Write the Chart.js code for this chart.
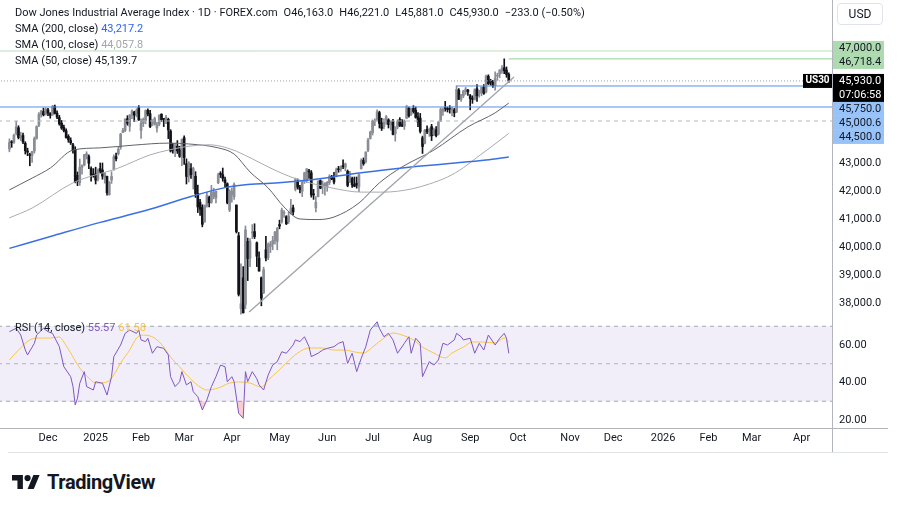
<!DOCTYPE html>
<html>
<head>
<meta charset="utf-8">
<script src="https://cdn.jsdelivr.net/npm/chart.js@4.4.1/dist/chart.umd.min.js"></script>
<style>
  body { margin: 0; background: #fff; font-family: Roboto, "Noto Sans", sans-serif; }
  #wrap { position: relative; width: 902px; height: 509px; overflow: hidden; background: #fff; }
  #c { position: absolute; left: 0; top: 0; }
  #legend { position: absolute; left: 15px; top: 5px; font-size: 11px; line-height: 16px; color: #131722; white-space: nowrap; }
  #legend .gap { margin-left: 6px; }
  #rsiLegend { position: absolute; left: 15px; top: 320px; font-size: 11px; line-height: 16px; color: #131722; white-space: nowrap; }
  #usd { position: absolute; left: 837px; top: 3px; width: 46px; height: 22px; border: 1px solid #e0e3eb; border-radius: 4px;
         box-sizing: border-box; font-size: 12px; line-height: 20px; text-align: center; color: #131722; }
  #logo { position: absolute; left: 12px; top: 470px; display: flex; align-items: center; gap: 7px; }
  #logo span { font-size: 20px; font-weight: 700; color: #131722; letter-spacing: -0.4px; }
</style>
</head>
<body>
<div id="wrap">
  <canvas id="c" width="890" height="454"></canvas>
  <div id="legend"></div>
  <div id="rsiLegend"></div>
  <div id="usd">USD</div>
  <div id="logo">
    <svg width="28" height="14" viewBox="0 4 36 18"><path d="M14 22H7V11H0V4h14v18zM28 22h-8l7.5-18h8L28 22z" fill="#131722"/><circle cx="20" cy="8" r="4" fill="#131722"/></svg>
    <span>TradingView</span>
  </div>
</div>
<script>
// daily bars, 6 Nov 2024 .. 25 Sep 2025 (index = trading day)
const opens = [
  43500,43760,43740,44050,44260,43930,43980,43700,43420,43300,43270,43430,43880,44350,44740,44840,44750,
  44900,44760,44720,45030,44780,44620,44420,44270,44150,43950,43800,43650,43470,42560,42300,42850,42930,43260,43230,42800,42600,
  42610,42430,42800,42750,42480,42520,41870,42390,42760,43230,43330,43560,44090,44160,44580,44310,44710,44820,44760,44980,
  44160,44420,44520,44880,44760,44400,44390,44250,44390,44740,44580,44510,44560,44140,43480,43450,43600,43470,43250,
  43900,42970,42530,42800,42590,42530,41910,41600,41410,40900,41470,41770,41600,41800,41750,42290,42600,42580,42400,42260,41320,
  41870,41800,41500,40400,37800,38900,37950,40200,39600,40500,40550,40150,39600,38900,38360,39900,39620,40020,40120,40230,40200,
  40800,40900,41200,41080,40910,41200,41400,42060,42340,42130,41990,42350,42380,42700,42650,41880,41400,41800,42370,42200,42150,
  42150,42300,42520,42450,42550,42770,42780,42900,42850,42700,42330,42450,42230,42280,42150,42800,43100,43050,43450,43880,
  44080,44480,44550,44800,44440,44300,44480,44540,44360,44500,44050,44280,44550,44370,44320,44600,44950,44740,44950,44880,44650,44600,
  43900,43700,44200,44130,44300,44020,44190,44030,44500,44850,44980,44920,44930,44880,44900,44820,45600,45280,45400,45550,45600,
  45400,45320,45280,45650,45500,45500,45710,45540,46100,45900,45900,45760,46100,46180,46280,46400,46320,46163
];
const highs = [
  43860,43800,44030,44490,44330,44100,44070,43760,43530,43350,43420,43930,44330,44800,44880,44960,44970,
  44950,44800,45060,45070,44860,44700,44520,44350,44220,44010,43900,43700,43580,42680,43140,42930,43310,43400,43290,42860,42800,
  42850,42790,43000,43000,42660,42530,42340,42690,43290,43350,43580,44060,44240,44580,44690,44730,44900,44850,44940,45050,
  44580,44610,44900,44930,44880,44550,44640,44450,44720,44760,44580,44700,44600,44190,43700,43700,43800,43600,43860,
  43970,43150,43050,42980,42850,42690,42210,41700,41510,41500,41950,41820,42200,42100,42000,42640,42690,42820,42500,42290,42050,
  42100,42290,41500,40520,39400,39300,40750,40320,40300,40800,40830,40180,39830,38930,39280,40380,40150,40200,40380,40560,40700,
  40960,41390,41300,41120,41250,41700,41500,42460,42430,42200,42350,42670,42800,42770,42730,42060,41800,42370,42400,42360,42300,
  42340,42580,42560,42670,42820,42880,42900,43110,43000,42750,42700,42500,42500,42500,42600,43150,43180,43400,43880,44140,
  44540,44580,44900,44850,44600,44580,44700,44580,44500,44560,44300,44540,44620,44550,44540,45060,45000,44950,45050,45000,44800,44770,
  43960,44200,44330,44250,44380,44250,44300,44480,44970,44960,45200,45000,45050,45000,44950,45760,45660,45450,45600,45700,45630,
  45450,45400,45650,45800,45600,45720,45800,46140,46150,45990,45950,46260,46210,46330,46480,46720,46430,46221
];
const lows = [
  43400,43560,43700,44000,43860,43800,43690,43320,43260,42900,43020,43350,43850,44300,44640,44680,44710,
  44690,44600,44700,44750,44580,44350,44200,44110,43890,43740,43660,43350,42290,42190,42200,42600,42900,43140,42800,42350,42490,
  42250,42360,42640,42420,42280,41850,41850,42270,42740,43070,43280,43490,44090,44120,44350,44130,44580,44480,44650,44520,
  43880,44300,44400,44680,44260,44330,44350,44100,44330,44480,44300,44400,43870,43390,43350,43230,43340,43200,42900,
  42950,42250,42320,42450,42070,41770,41230,41130,40720,40880,41420,41430,41560,41720,41570,42260,42480,42350,42150,41540,41260,
  41600,41700,40500,38250,37600,37640,37800,38800,39300,40300,40300,39300,39140,37900,38340,39500,39550,39800,39900,40100,39900,
  40650,40850,41060,40800,40840,41170,41150,42000,42070,41930,41800,42270,42300,42450,41780,41700,41250,41790,42080,41900,41850,
  41990,42230,42400,42250,42500,42670,42700,42800,42720,42150,42300,42130,42150,42100,41980,42780,42920,43000,43400,43850,
  44000,44330,44500,44250,44160,44220,44380,44250,44170,44000,43780,44220,44300,44300,44200,44580,44640,44700,44780,44600,44300,44070,
  43340,43680,44050,43950,43800,43980,43930,44000,44480,44700,44850,44820,44780,44680,44650,44800,45260,45200,45330,45450,45410,
  44900,45130,45250,45200,45350,45400,45450,45500,45800,45780,45700,45600,45950,46050,46200,46190,46060,45881
];
const closes = [
  43730,43730,43990,44290,43910,43960,43750,43440,43390,43270,43410,43870,44300,44740,44860,44720,44910,
  44780,44700,45010,44770,44640,44400,44250,44150,43910,43830,43720,43450,42330,42340,42840,42910,43300,43330,42990,42570,42540,
  42390,42730,42710,42530,42640,41940,42300,42520,43220,43150,43490,44030,44160,44570,44420,44710,44850,44710,44880,44540,
  44420,44560,44870,44750,44300,44470,44590,44370,44710,44550,44560,44630,44180,43430,43460,43620,43430,43240,43840,
  43190,42520,43010,42580,42800,41910,41430,41350,40810,41490,41840,41580,41960,41950,41990,42580,42590,42450,42300,41580,42000,
  41990,42230,40550,38310,37970,37650,40610,39590,40210,40520,40370,39670,39140,38170,39190,39610,40090,40110,40230,40530,40670,
  40750,41320,41220,40830,41110,41370,41250,42410,42140,42050,42320,42650,42790,42680,41860,41860,41600,42340,42100,42220,42270,
  42310,42520,42430,42320,42760,42760,42870,42870,42970,42200,42520,42220,42170,42210,42580,43090,42980,43390,43820,44100,
  44500,44480,44830,44410,44240,44460,44650,44370,44460,44020,44250,44480,44340,44320,44500,45010,44690,44900,44840,44630,44460,44130,
  43590,44170,44110,44190,43970,44180,43980,44460,44920,44910,44950,44910,44920,44940,44790,45630,45280,45420,45570,45640,45540,
  45300,45270,45620,45400,45510,45710,45490,46110,45830,45880,45760,46020,46140,46320,46380,46290,46163,45930
];

// time axis
const monthTickIdx = [17, 38, 58, 77, 98, 119, 140, 160, 182, 203, 224, 247, 266, 288, 308, 327, 349];
const monthTickLabels = ['Dec', '2025', 'Feb', 'Mar', 'Apr', 'May', 'Jun', 'Jul', 'Aug', 'Sep', 'Oct', 'Nov', 'Dec', '2026', 'Feb', 'Mar', 'Apr'];
const priceTicks = [38000, 39000, 40000, 41000, 42000, 43000];
const rsiTicks = [20, 40, 60];

// moving averages (bar index -> value)
const sma200Idx = [0, 20, 40, 60, 80, 95, 105, 120, 135, 150, 165, 180, 195, 210, 220];
const sma200Vals = [39950, 40420, 40880, 41300, 41800, 42120, 42230, 42300, 42420, 42600, 42750, 42880, 42990, 43110, 43217.2];
const sma100Idx = [0, 10, 28, 48, 62, 70, 79, 88, 95, 100, 107, 114, 121, 128, 142, 155, 165, 177, 185, 193, 200, 206, 213, 220];
const sma100Vals = [41040, 41390, 42290, 42820, 43290, 43460, 43600, 43650, 43560, 43420, 43150, 42860, 42600, 42390, 42110, 41960, 41960, 42070, 42250, 42500, 42830, 43200, 43620, 44057.8];
const sma50Idx = [0, 10, 18, 28, 40, 55, 70, 79, 92, 99, 106, 114, 121, 128, 136, 143, 154, 163, 173, 187, 202, 214, 220];
const sma50Vals = [42040, 42460, 42820, 43460, 43540, 43640, 43710, 43680, 43540, 43320, 42680, 42110, 41430, 41000, 40980, 41070, 41570, 42290, 42860, 43460, 44290, 44790, 45139.7];

// RSI (14) and its moving average
const rsiIdx = [0,3,5,7,8,11,12,15,17,19,22,24,27,28,29,30,31,33,34,37,38,41,43,45,46,49,51,53,56,57,58,60,61,63,65,68,70,71,73,75,76,78,80,81,83,85,87,89,91,93,95,96,98,99,101,103,104,105,107,109,110,112,114,116,118,120,122,125,126,128,130,132,133,136,138,140,143,145,147,149,151,153,155,157,159,162,163,165,167,169,171,174,176,177,179,181,182,185,187,189,191,193,196,197,199,200,203,205,207,209,211,214,216,218,219,220];
const rsiVals = [67.1,68.9,65.3,57.3,54.7,60.9,65.3,68.9,67.1,66.2,59.1,48.4,43.1,38.0,28.0,31.6,39.6,45.8,37.8,36.0,40.4,39.6,33.3,43.1,53.8,60.0,66.2,68.0,66.2,68.0,62.7,61.8,63.6,55.6,59.1,58.2,54.7,43.1,37.8,40.4,45.8,38.7,40.4,35.1,32.4,25.3,30.7,37.8,43.1,49.3,48.4,40.4,43.1,40.4,23.6,20.9,45.8,40.5,45.8,42.0,38.7,36.0,44.0,49.3,51.1,56.4,55.6,60.0,62.7,61.8,64.4,59.1,53.8,55.6,57.3,58.2,59.1,60.9,61.8,50.2,55.6,45.8,52.9,59.1,68.0,72.4,68.9,64.4,66.2,62.7,55.6,60.9,64.4,55.6,63.6,60.9,43.1,51.1,49.3,52.0,60.9,60.0,62.7,66.2,64.4,62.7,63.6,55.6,60.9,57.3,65.3,60.0,63.6,66.2,63.6,55.57];
const rsiMaIdx = [0,4,9,13,18,22,24,27,31,35,38,43,46,49,53,56,59,64,68,71,75,79,84,87,92,97,101,106,111,114,118,122,127,132,138,143,148,152,156,160,165,169,173,178,182,187,192,195,200,204,209,214,218,220];
const rsiMaVals = [52,57.3,62.7,63.7,63.7,64.3,61.6,55.7,47.7,42.4,39.7,40.3,44,50.4,57.3,63.7,65.3,63.7,58.9,53.6,48.3,42.9,37.6,36,37.1,39.7,40.3,39.7,37.6,41.3,45.6,50.4,55.7,58.4,58.4,57.3,57.3,56.3,55.7,58.9,63.7,66.4,65.3,62.7,58.9,55.7,53.1,55.7,58.9,61.6,61.6,61.1,63.7,61.58];

// drawn levels and trend line
const levelVals = [47000, 46718.4, 45750, 45000.6, 44500];
const levelFrom = [-5, 220, 197, -5, -5];
const trendIdx = [105.6, 222.3];
const trendVals = [37680, 46070];

// right-axis tags
const tagVals = [47000, 46718.4, 45930, 45750, 45000.6, 44500];
const tagKinds = ['green', 'green', 'last', 'blue', 'blue', 'blue'];

const UP = '#8a8d96';
const DOWN = '#111318';
const last = closes.length - 1;
const fmt1 = v => v.toLocaleString('en-US', {minimumFractionDigits: 1, maximumFractionDigits: 1});
const pts = (xs, ys) => xs.map((x, k) => ({x, y: ys[k]}));
const isUp = i => closes[i] >= opens[i];

// legend text
const chg = closes[last] - closes[last - 1];
document.getElementById('legend').innerHTML =
  `<div>Dow Jones Industrial Average Index · 1D · FOREX.com` +
  `<span class="gap">O${fmt1(opens[last])}</span><span class="gap">H${fmt1(highs[last])}</span>` +
  `<span class="gap">L${fmt1(lows[last])}</span><span class="gap">C${fmt1(closes[last])}</span>` +
  `<span class="gap">${chg < 0 ? '−' : '+'}${fmt1(Math.abs(chg))} (${chg < 0 ? '−' : '+'}${(Math.abs(chg) / closes[last - 1] * 100).toFixed(2)}%)</span></div>` +
  `<div>SMA (200, close) <span style="color:#2962ff">${fmt1(sma200Vals[sma200Vals.length - 1])}</span></div>` +
  `<div>SMA (100, close) <span style="color:#a3a6af">${fmt1(sma100Vals[sma100Vals.length - 1])}</span></div>` +
  `<div>SMA (50, close) <span style="color:#131722">${fmt1(sma50Vals[sma50Vals.length - 1])}</span></div>`;
document.getElementById('rsiLegend').innerHTML =
  `RSI (14, close) <span style="color:#7e57c2">${rsiVals[rsiVals.length - 1].toFixed(2)}</span> ` +
  `<span style="color:#f7c548">${rsiMaVals[rsiMaVals.length - 1].toFixed(2)}</span>`;

const tagPlugin = {
  id: 'tags',
  afterDraw(chart) {
    const {ctx, chartArea: a, scales} = chart;
    const y = scales.y;
    ctx.save();
    // frame
    ctx.strokeStyle = '#b2b5be';
    ctx.lineWidth = 1;
    ctx.beginPath();
    ctx.moveTo(a.right + 0.5, 0); ctx.lineTo(a.right + 0.5, a.bottom + 24);
    ctx.moveTo(0, a.bottom + 0.5); ctx.lineTo(a.right + 56, a.bottom + 0.5);
    ctx.stroke();
    ctx.strokeStyle = '#e0e3eb';
    ctx.beginPath();
    ctx.moveTo(8, a.bottom + 24.5); ctx.lineTo(a.right + 56, a.bottom + 24.5);
    ctx.stroke();

    const H = 14;
    const items = tagVals.map((v, k) => {
      const h = tagKinds[k] === 'last' ? 2 * H : H;
      const top = y.getPixelForValue(v) - H / 2;
      return {v, kind: tagKinds[k], h, top};
    }).sort((p, q) => p.top - q.top);
    let groups = items.map(t => ({items: [t], top: t.top, h: t.h, fixed: t.kind === 'last'}));
    let merged = true;
    while (merged) {
      merged = false;
      for (let k = 0; k < groups.length - 1; k++) {
        const g1 = groups[k], g2 = groups[k + 1];
        if (g1.top + g1.h > g2.top) {
          const its = g1.items.concat(g2.items);
          const h = g1.h + g2.h;
          let top;
          if (g1.fixed) top = g1.top;
          else if (g2.fixed) top = g2.top - g1.h;
          else top = its.reduce((s, t) => s + t.top + t.h / 2, 0) / its.length - h / 2;
          groups.splice(k, 2, {items: its, top, h, fixed: g1.fixed || g2.fixed});
          merged = true;
          break;
        }
      }
    }
    ctx.font = '11px Roboto, sans-serif';
    ctx.textBaseline = 'middle';
    groups.forEach(g => {
      let t0 = g.top;
      g.items.forEach(t => {
        const bg = t.kind === 'green' ? '#addaae' : t.kind === 'blue' ? '#98c3f9' : '#000';
        ctx.fillStyle = bg;
        ctx.fillRect(a.right + 1, t0, 51, t.h);
        ctx.fillStyle = t.kind === 'last' ? '#fff' : '#131722';
        ctx.textAlign = 'left';
        ctx.fillText(fmt1(t.v), a.right + 7, t0 + H / 2);
        if (t.kind === 'last') {
          ctx.fillText('07:06:58', a.right + 7, t0 + H * 1.5);
          ctx.fillStyle = '#000';
          ctx.fillRect(a.right - 29, t0, 29, H);
          ctx.fillStyle = '#fff';
          ctx.font = 'bold 10px Roboto, sans-serif';
          ctx.textAlign = 'center';
          ctx.fillText('US30', a.right - 14.5, t0 + H / 2);
          ctx.font = '11px Roboto, sans-serif';
        }
        t0 += t.h;
      });
    });
    ctx.restore();
  }
};

const lineBase = {type: 'line', pointRadius: 0, borderWidth: 1, fill: false, yAxisID: 'y'};

const datasets = [
  {type: 'bar', data: closes.map((c, i) => ({x: i, y: [lows[i], highs[i]]})), grouped: false, barThickness: 1,
   backgroundColor: c => isUp(c.dataIndex) ? UP : DOWN, yAxisID: 'y', order: 6},
  {type: 'bar', data: closes.map((c, i) => ({x: i, y: [Math.min(opens[i], c), Math.max(opens[i], c)]})), grouped: false,
   barThickness: 2, minBarLength: 1, backgroundColor: c => isUp(c.dataIndex) ? UP : DOWN, yAxisID: 'y', order: 5},
  {...lineBase, data: pts(sma200Idx, sma200Vals), borderColor: '#3b6fe6', borderWidth: 1.5, cubicInterpolationMode: 'monotone', order: 3},
  {...lineBase, data: pts(sma100Idx, sma100Vals), borderColor: '#a9abb2', cubicInterpolationMode: 'monotone', order: 3},
  {...lineBase, data: pts(sma50Idx, sma50Vals), borderColor: '#60636b', cubicInterpolationMode: 'monotone', order: 3},
  {...lineBase, data: pts(trendIdx, trendVals), borderColor: '#a0a3aa', borderWidth: 1.3, order: 2},
  {...lineBase, data: [{x: -5, y: levelVals[0]}, {x: 400, y: levelVals[0]}], borderColor: '#b9dfba', order: 4},
  {...lineBase, data: [{x: levelFrom[1], y: levelVals[1]}, {x: 400, y: levelVals[1]}], borderColor: '#8fcf92', order: 4},
  {...lineBase, data: [{x: levelFrom[2], y: levelVals[2]}, {x: 400, y: levelVals[2]}], borderColor: '#5b8def', order: 4},
  {...lineBase, data: [{x: levelFrom[3], y: levelVals[3]}, {x: 400, y: levelVals[3]}], borderColor: '#5b8def', order: 4},
  {...lineBase, data: [{x: levelFrom[4], y: levelVals[4]}, {x: 400, y: levelVals[4]}], borderColor: '#b2b5be', borderDash: [4, 4], order: 4},
  {...lineBase, data: [{x: -5, y: closes[last]}, {x: 400, y: closes[last]}], borderColor: '#9598a1', borderDash: [1, 2], order: 4},
  // RSI pane
  {...lineBase, yAxisID: 'y2', data: [{x: -5, y: 70}, {x: 400, y: 70}], borderColor: '#a3a6af', borderDash: [4, 4], order: 9},
  {...lineBase, yAxisID: 'y2', data: [{x: -5, y: 30}, {x: 400, y: 30}], borderColor: '#a3a6af', borderDash: [4, 4],
   fill: '-1', backgroundColor: 'rgba(126,87,194,0.1)', order: 9},
  {...lineBase, yAxisID: 'y2', data: [{x: -5, y: 50}, {x: 400, y: 50}], borderColor: '#b8bac1', borderDash: [4, 4], order: 9},
  {...lineBase, yAxisID: 'y2', data: pts(rsiMaIdx, rsiMaVals), borderColor: '#f7c548', cubicInterpolationMode: 'monotone', order: 8},
  // oversold / overbought shading, then the RSI line itself
  {...lineBase, yAxisID: 'y2', data: pts(rsiIdx, rsiVals), borderWidth: 0, borderColor: 'transparent',
   fill: {target: {value: 30}, above: 'transparent', below: 'rgba(242,54,69,0.25)'}, order: 8},
  {...lineBase, yAxisID: 'y2', data: pts(rsiIdx, rsiVals), borderWidth: 0, borderColor: 'transparent',
   fill: {target: {value: 70}, above: 'rgba(8,153,129,0.25)', below: 'transparent'}, order: 8},
  {...lineBase, yAxisID: 'y2', data: pts(rsiIdx, rsiVals), borderColor: '#7e57c2', order: 7}
];

const tickFont = {family: 'Roboto, sans-serif', size: 11};

new Chart(document.getElementById('c'), {
  type: 'bar',
  data: {datasets},
  options: {
    responsive: false,
    animation: false,
    events: [],
    layout: {padding: {bottom: 2}},
    plugins: {legend: {display: false}, tooltip: {enabled: false}},
    scales: {
      x: {
        type: 'linear', min: -4.14, max: 362.4, offset: false,
        grid: {display: false, drawTicks: false}, border: {display: false},
        ticks: {font: tickFont, color: '#131722', padding: 4, autoSkip: false, maxRotation: 0,
                callback: (v, k) => monthTickLabels[k]},
        afterBuildTicks: s => { s.ticks = monthTickIdx.map(v => ({value: v})); },
        afterFit: s => { s.height = 24; s.paddingLeft = 0; s.paddingRight = 0; }
      },
      y: {
        type: 'linear', position: 'right', stack: 'pane', stackWeight: 317,
        min: 37500, max: 48821,
        grid: {display: false, drawTicks: false}, border: {display: false},
        ticks: {font: tickFont, color: '#131722', padding: 7, callback: v => fmt1(v)},
        afterBuildTicks: s => { s.ticks = priceTicks.map(v => ({value: v})); },
        afterFit: s => { s.width = 58; s.paddingTop = 0; s.paddingBottom = 0; }
      },
      y2: {
        type: 'linear', position: 'right', stack: 'pane', stackWeight: 111,
        min: 15.73, max: 74.93,
        grid: {display: false, drawTicks: false}, border: {display: false},
        ticks: {font: tickFont, color: '#131722', padding: 7, callback: v => v.toFixed(2)},
        afterBuildTicks: s => { s.ticks = rsiTicks.map(v => ({value: v})); },
        afterFit: s => { s.width = 58; s.paddingTop = 0; s.paddingBottom = 0; }
      }
    }
  },
  plugins: [tagPlugin]
});
</script>
</body>
</html>
